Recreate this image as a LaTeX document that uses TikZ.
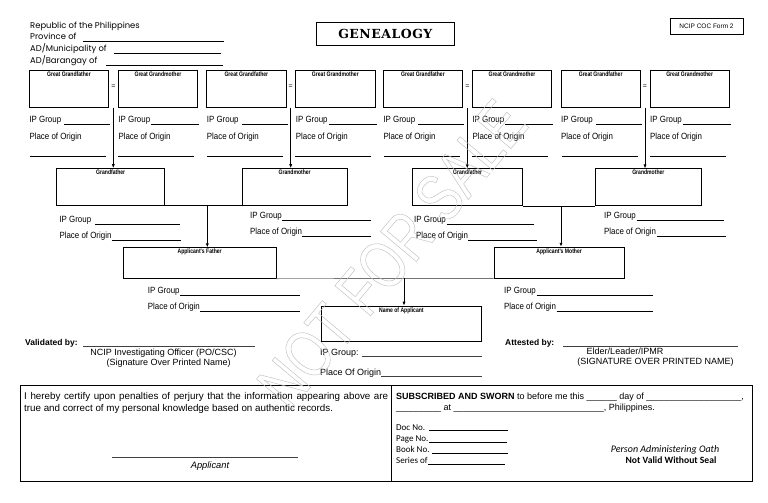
\documentclass[tikz,border=0pt]{standalone}
\usepackage{fontspec}
\setmainfont{Liberation Sans}
\newfontfamily\narrowfont[FakeStretch=0.88]{Liberation Sans}
\newfontfamily\tagfont[FakeStretch=0.78]{Liberation Sans}
\newfontfamily\markfont[FakeStretch=0.75]{Liberation Sans}
\newfontfamily\headfont{Poppins}
\newfontfamily\titlefont[LetterSpace=4]{DejaVu Serif}
\newfontfamily\calfont{Carlito}
\usetikzlibrary{arrows.meta}

\tikzset{
  famBox/.style={draw, line width=0.7pt, inner sep=0pt},
  boxLbl/.style={font=\tagfont\bfseries\fontsize{6.5}{7}\selectfont, anchor=north, inner sep=1.5pt},
  fld/.style={font=\narrowfont\fontsize{9}{10}\selectfont, anchor=base west, inner sep=0pt},
  txt/.style={font=\fontsize{9}{11}\selectfont, anchor=base west, inner sep=0pt},
  hdr/.style={font=\headfont\fontsize{8.4}{9}\selectfont, anchor=base west, inner sep=0pt},
  cal/.style={font=\calfont\fontsize{9}{10}\selectfont, anchor=base west, inner sep=0pt},
  blank/.style={line width=0.6pt},
  thinBlank/.style={line width=0.4pt, black!75},
  arr/.style={-{Latex[length=4pt,width=3.2pt]}, line width=0.9pt},
}

\begin{document}
\begin{tikzpicture}[x=1pt,y=-1pt]
\useasboundingbox (0,0) rectangle (768,503);

% header
\node[hdr] (rep) at (30,28.3) {Republic of the Philippines};
\node[hdr] (prov) at (30,39.8) {Province of};
\node[hdr] (mun) at (30,51.8) {AD/Municipality of};
\node[hdr] (bar) at (30,63.8) {AD/Barangay of};
\draw[blank] (82.7,41.3) -- (224,41.3);
\draw[blank] (114.3,53.3) -- (221,53.3);
\draw[blank] (106,65.3) -- (223.3,65.3);
\node[draw, line width=0.7pt, minimum width=137.3pt, minimum height=23pt, inner sep=0pt,
  font=\titlefont\bfseries\fontsize{12.5}{12.5}\selectfont] (title) at (385.35,33.5) {GENEALOGY};
\node[draw, line width=0.5pt, minimum width=73pt, minimum height=15.6pt, inner sep=0pt,
  font=\fontsize{6.5}{7}\selectfont] (form) at (706.5,26.5) {NCIP COC Form 2};

% great grandparents
\foreach \p/\L in {1/29.3,2/206.7,3/383.3,4/561}
{
    \node[famBox, minimum width=79.3pt, minimum height=37.3pt, label={[boxLbl]north:Great Grandfather}] (ggf\p) at (\L+39.65,88.65) {};
    \node[famBox, minimum width=79.3pt, minimum height=37.3pt, label={[boxLbl]north:Great Grandmother}] (ggm\p) at (\L+128.65,88.65) {};
    \node[font=\fontsize{7}{7}\selectfont, inner sep=0pt] (eq\p) at (\L+84,87) {=};
    \node[fld] (ipf\p) at (\L,122.5) {IP Group};
    \node[fld] (pof\p) at (\L,139) {Place of Origin};
    \node[fld] (ipm\p) at (\L+89,122.5) {IP Group};
    \node[fld] (pom\p) at (\L+89,139) {Place of Origin};
    \draw[blank] ([xshift=3pt,yshift=-1.6pt]ipf\p.base east) -- (\L+81,124.1);
    \draw[blank] ([xshift=1pt,yshift=-1.6pt]ipm\p.base east) -- (\L+170,124.1);
    \draw[blank] (\L+0.7,156.7) -- (\L+76.7,156.7);
    \draw[blank] (\L+88.7,156.7) -- (\L+164.7,156.7);
}

% grandparents
\node[famBox, minimum width=108pt, minimum height=37pt, label={[boxLbl]north:Grandfather}] (gp1) at (110.7,187) {};
\node[famBox, minimum width=104.7pt, minimum height=37pt, label={[boxLbl]north:Grandmother}] (gp2) at (294.65,187) {};
\node[famBox, minimum width=110pt, minimum height=37pt, label={[boxLbl]north:Grandfather}] (gp3) at (467.7,187.3) {};
\node[famBox, minimum width=106.7pt, minimum height=37pt, label={[boxLbl]north:Grandmother}] (gp4) at (648.35,187.3) {};
\foreach \p in {1,2,3,4}
{
    \draw[arr] (eq\p |- ggf\p.south) -- (eq\p |- gp\p.north);
}
\draw[line width=0.8pt] (gp1.south east) -- (gp2.south west);
\draw[line width=0.8pt] (gp3.south east) -- (gp4.south west);

\node[fld] (ip1) at (59.3,222.3) {IP Group};
\node[fld] (po1) at (59.3,238.7) {Place of Origin};
\draw[blank] (95,224.3) -- (180,224.3);
\draw[blank] (111.7,240.7) -- (181,240.7);
\node[fld] (ip2) at (250,218.7) {IP Group};
\node[fld] (po2) at (250,234) {Place of Origin};
\draw[blank] (282.3,220.7) -- (371,220.7);
\draw[blank] (302.3,236) -- (371,236);
\node[fld] (ip3) at (414,222.3) {IP Group};
\node[fld] (po3) at (416,238.7) {Place of Origin};
\draw[blank] (446.7,224.3) -- (534.3,224.3);
\draw[blank] (468.3,240.7) -- (537.3,240.7);
\node[fld] (ip4) at (604,218.7) {IP Group};
\node[fld] (po4) at (604,234) {Place of Origin};
\draw[blank] (636.7,220.7) -- (724.3,220.7);
\draw[blank] (656.7,236) -- (725.7,236);

% parents
\node[famBox, minimum width=152.7pt, minimum height=30.6pt, label={[boxLbl]north:Applicant's Father}] (fa) at (199.65,263) {};
\node[famBox, minimum width=130.3pt, minimum height=31pt, label={[boxLbl]north:Applicant's Mother}] (mo) at (559.15,262.6) {};
\coordinate (jf) at (207.3,205.3);
\coordinate (jm) at (561,205.8);
\draw[arr] (jf) -- (jf |- fa.north);
\draw[arr] (jm) -- (jm |- mo.north);

\node[fld] (ipfa) at (147.7,293) {IP Group};
\node[fld] (pofa) at (147.7,309.7) {Place of Origin};
\draw[blank] (180,295) -- (300,295);
\draw[blank] (200,311.7) -- (300,311.7);
\node[fld] (ipmo) at (504,293) {IP Group};
\node[fld] (pomo) at (504,309.7) {Place of Origin};
\draw[blank] (536.7,295) -- (652.7,295);
\draw[blank] (556.7,311.7) -- (652.7,311.7);

% applicant
\node[famBox, minimum width=159.3pt, minimum height=35.5pt, label={[boxLbl]north:Name of Applicant}] (ap) at (401.35,323.75) {};
\draw[line width=0.7pt, black!55] (fa.south east) -- (mo.south west);
\coordinate (ja) at (404,278.2);
\draw[arr] (ja) -- (ja |- ap.north);
\node[txt] (ipap) at (320,355) {IP Group:};
\node[txt] (poap) at (320,375) {Place Of Origin};
\draw[thinBlank] (361.7,356.5) -- (481.7,356.5);
\draw[thinBlank] (381,376.5) -- (481.7,376.5);

% signatures
\node[txt, font=\bfseries\fontsize{8.5}{10}\selectfont] (val) at (25,345) {Validated by:};
\draw[thinBlank] (83.3,345.8) -- (255,345.8);
\node[txt, anchor=base] (officer) at (163.5,355.5) {NCIP Investigating Officer (PO/CSC)};
\node[txt, anchor=base] (sigval) at (168.7,365.5) {(Signature Over Printed Name)};
\node[txt, font=\bfseries\fontsize{8.5}{10}\selectfont] (att) at (505,345) {Attested by:};
\draw[thinBlank] (563.3,345.8) -- (738.3,345.8);
\node[txt, anchor=base] (elder) at (625,354) {Elder/Leader/IPMR};
\node[txt, anchor=base] (sigatt) at (655.5,364.5) {(SIGNATURE OVER PRINTED NAME)};

% certification
\draw[line width=0.8pt] (20.7,385.5) rectangle (752.3,481.7);
\draw[line width=0.8pt] (391,385.5) -- (391,481.7);
\node[txt, anchor=north west, text width=364pt, align=justify, font=\fontsize{9.8}{12.4}\selectfont] (oath) at (24,392)
  {I hereby certify upon penalties of perjury that the information appearing above are\linebreak true and correct of my personal knowledge based on authentic records.};
\draw[thinBlank] (112.3,456.7) -- (298.3,456.7);
\node[txt, anchor=base, font=\itshape\fontsize{9.3}{10}\selectfont] (appl) at (210,468) {Applicant};
\node[txt, anchor=north west, align=left] (sworn) at (396,392.5)
  {\textbf{SUBSCRIBED AND SWORN} to before me this \_\_\_\_\_\_ day of \_\_\_\_\_\_\_\_\_\_\_\_\_\_\_\_\_\_\_,\\
   \_\_\_\_\_\_\_\_\_ at \_\_\_\_\_\_\_\_\_\_\_\_\_\_\_\_\_\_\_\_\_\_\_\_\_\_\_\_\_\_, Philippines.};
\node[cal] (doc) at (396,430) {Doc No.};
\node[cal] (page) at (396,441.2) {Page No.};
\node[cal] (book) at (396,452.5) {Book No.};
\node[cal] (ser) at (396,463.5) {Series of};
\draw[blank] (429.3,430.6) -- (507.7,430.6);
\draw[blank] (429.3,441.8) -- (506.7,441.8);
\draw[blank] (432,453.1) -- (507.7,453.1);
\draw[blank] (428,464.1) -- (505.3,464.1);
\node[cal, anchor=base, font=\calfont\itshape\fontsize{10}{10}\selectfont] (oathp) at (665,452.5) {Person Administering Oath};
\node[cal, anchor=base, font=\calfont\bfseries\fontsize{9.6}{10}\selectfont] (seal) at (671,463.5) {Not Valid Without Seal};

% watermark
\node[rotate=50, inner sep=0pt, text=black!25, font=\markfont\fontsize{68}{68}\selectfont] (wm) at (392,254)
  {\special{pdf:literal direct 0.45 w 1 Tr}NOT FOR SALE\special{pdf:literal direct 0 Tr}};
\end{tikzpicture}
\end{document}
